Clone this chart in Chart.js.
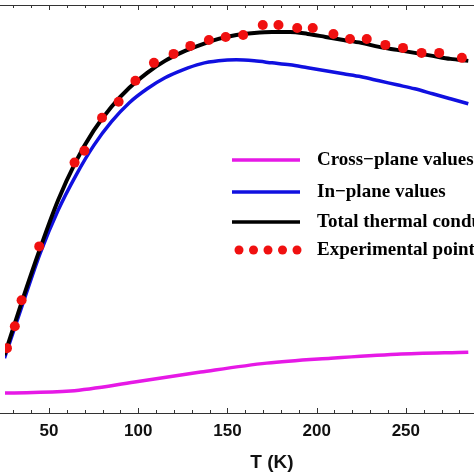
<!DOCTYPE html>
<html>
<head>
<script src="https://cdn.jsdelivr.net/npm/chart.js"></script>
<style>
  html, body { margin: 0; padding: 0; background: #fff; }
  #wrap { width: 474px; height: 474px; }
</style>
</head>
<body>
<div id="wrap"><canvas id="kappaChart"></canvas></div>
<script>
// values (y in arbitrary units, axis labels cropped away)
const tExp = [26.4, 30.8, 34.6, 44.5, 64.3, 69.8, 79.7, 89.0, 98.4, 108.8, 119.8, 129.2, 139.6, 149.0, 158.8, 169.8, 178.6, 189.1, 197.8, 209.4, 218.7, 228.1, 238.5, 248.4, 258.8, 268.7, 281.4];
const kExp = [65, 87, 113, 167, 251, 263, 296, 312, 333, 351, 360, 368, 374, 377, 379, 389, 389, 386, 386, 380, 375, 375, 369, 366, 361, 361, 356];

const tCurve = [25, 35, 45, 55, 65, 75, 85, 95, 105, 115, 125, 135, 145, 155, 165, 175, 185, 195, 205, 215, 225, 235, 245, 255, 265, 275, 285];
const kTotal = [58, 113, 165, 213, 252, 283, 307, 326, 341, 353, 362, 369, 375, 379, 381, 382, 382, 380, 377, 374, 371, 367, 364, 361, 358, 355, 353];
const kInPlane = [55, 108, 160, 203, 238, 268, 292, 311, 325, 336, 344, 350, 353, 354, 353, 351, 349, 346, 343, 340, 337, 333, 329, 325, 320, 315, 310];
const tCross = [25, 62, 98, 135, 172, 208, 245, 285];
const kCross = [20, 22, 31, 41, 50, 55, 59, 61];

const xTicks = [50, 100, 150, 200, 250];
const legendItems = ['Cross\u2212plane values', 'In\u2212plane values', 'Total thermal conductivity', 'Experimental points'];

const pts = (xs, ys) => xs.map((x, i) => ({x: x, y: ys[i]}));

const framePlugin = {
  id: 'frame',
  afterDraw(chart) {
    const ctx = chart.ctx, a = chart.chartArea, xs = chart.scales.x;
    ctx.save();
    ctx.strokeStyle = '#333'; ctx.lineWidth = 1;
    ctx.beginPath();
    ctx.moveTo(0, a.bottom + 0.5); ctx.lineTo(474, a.bottom + 0.5);
    ctx.moveTo(0, a.top + 0.5); ctx.lineTo(474, a.top + 0.5);
    for (let t = 30; t <= 280; t += 10) {
      const px = Math.round(xs.getPixelForValue(t)) + 0.5;
      const len = t % 50 === 0 ? 5 : 3;
      ctx.moveTo(px, a.bottom); ctx.lineTo(px, a.bottom - len);
      ctx.moveTo(px, a.top); ctx.lineTo(px, a.top + len);
    }
    ctx.stroke();
    ctx.fillStyle = '#111';
    ctx.font = 'bold 17px "Liberation Sans", Arial, sans-serif';
    ctx.textAlign = 'center'; ctx.textBaseline = 'middle';
    xTicks.forEach(t => ctx.fillText(String(t), xs.getPixelForValue(t), 431));
    ctx.font = 'bold 19px "Liberation Sans", Arial, sans-serif';
    ctx.fillText('T (K)', 272, 463);
    // legend
    const colors = ['#e619e6', '#1010e0', '#000', '#f01010'];
    const rows = [160, 192, 222, 250];
    ctx.font = 'bold 19px "Liberation Serif", "Times New Roman", serif';
    ctx.textAlign = 'left';
    rows.forEach((y, i) => {
      if (i < 3) {
        ctx.strokeStyle = colors[i]; ctx.lineWidth = 3.5;
        ctx.beginPath(); ctx.moveTo(232, y); ctx.lineTo(300, y); ctx.stroke();
      } else {
        ctx.fillStyle = colors[i];
        for (let k = 0; k < 5; k++) { ctx.beginPath(); ctx.arc(239 + k * 14.5, y, 4.5, 0, 2 * Math.PI); ctx.fill(); }
      }
      ctx.fillStyle = '#000';
      ctx.fillText(legendItems[i], 317, y);
    });
    ctx.restore();
  }
};

new Chart(document.getElementById('kappaChart').getContext('2d'), {
  type: 'scatter',
  data: {
    datasets: [
      { data: pts(tExp, kExp), showLine: false, pointRadius: 5, pointBackgroundColor: '#f01010', pointBorderWidth: 0 },
      { data: pts(tCurve, kTotal), showLine: true, borderColor: '#000', borderWidth: 4, pointRadius: 0, cubicInterpolationMode: 'monotone' },
      { data: pts(tCurve, kInPlane), showLine: true, borderColor: '#1010e0', borderWidth: 3.5, pointRadius: 0, cubicInterpolationMode: 'monotone' },
      { data: pts(tCross, kCross), showLine: true, borderColor: '#e619e6', borderWidth: 3.5, pointRadius: 0, cubicInterpolationMode: 'monotone' }
    ]
  },
  options: {
    responsive: true, maintainAspectRatio: false, animation: false,
    layout: { padding: { top: 4, bottom: 61, left: 0, right: 0 } },
    plugins: { legend: { display: false }, tooltip: { enabled: false } },
    scales: {
      x: { type: 'linear', min: 25.3, max: 285.4, display: false },
      y: { min: 0, max: 409, display: false }
    }
  },
  plugins: [framePlugin]
});
</script>
</body>
</html>
